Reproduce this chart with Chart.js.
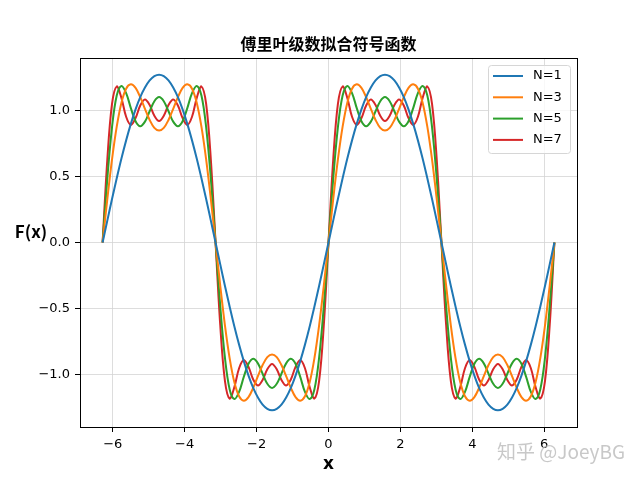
<!DOCTYPE html>
<html lang="zh">
<head>
  <meta charset="UTF-8">
  <title>傅里叶级数拟合符号函数</title>
  <script src="https://cdn.jsdelivr.net/npm/chart.js@4.4.0/dist/chart.umd.min.js"></script>
  <style>
    body { margin: 0; background: #fff; }
  </style>
</head>
<body>
  <canvas id="myChart" width="640" height="480"></canvas>

  <script>
    // x samples from -2π to 2π (step π/24)
    const xs = [
      -6.2832,-6.1523,-6.0214,-5.8905,-5.7596,-5.6287,-5.4978,-5.3669,-5.2360,-5.1051,-4.9742,-4.8433,
      -4.7124,-4.5815,-4.4506,-4.3197,-4.1888,-4.0579,-3.9270,-3.7961,-3.6652,-3.5343,-3.4034,-3.2725,
      -3.1416,-3.0107,-2.8798,-2.7489,-2.6180,-2.4871,-2.3562,-2.2253,-2.0944,-1.9635,-1.8326,-1.7017,
      -1.5708,-1.4399,-1.3090,-1.1781,-1.0472,-0.9163,-0.7854,-0.6545,-0.5236,-0.3927,-0.2618,-0.1309,
      0,0.1309,0.2618,0.3927,0.5236,0.6545,0.7854,0.9163,1.0472,1.1781,1.3090,1.4399,
      1.5708,1.7017,1.8326,1.9635,2.0944,2.2253,2.3562,2.4871,2.6180,2.7489,2.8798,3.0107,
      3.1416,3.2725,3.4034,3.5343,3.6652,3.7961,3.9270,4.0579,4.1888,4.3197,4.4506,4.5815,
      4.7124,4.8433,4.9742,5.1051,5.2360,5.3669,5.4978,5.6287,5.7596,5.8905,6.0214,6.1523,
      6.2832
    ];

    const yN1 = [
      0,0.166,0.330,0.487,0.637,0.775,0.900,1.010,1.103,1.176,1.230,1.262,1.273,1.262,1.230,1.176,1.103,1.010,0.900,0.775,0.637,0.487,0.330,0.166,
      0,-0.166,-0.330,-0.487,-0.637,-0.775,-0.900,-1.010,-1.103,-1.176,-1.230,-1.262,-1.273,-1.262,-1.230,-1.176,-1.103,-1.010,-0.900,-0.775,-0.637,-0.487,-0.330,-0.166,
      0,0.166,0.330,0.487,0.637,0.775,0.900,1.010,1.103,1.176,1.230,1.262,1.273,1.262,1.230,1.176,1.103,1.010,0.900,0.775,0.637,0.487,0.330,0.166,
      0,-0.166,-0.330,-0.487,-0.637,-0.775,-0.900,-1.010,-1.103,-1.176,-1.230,-1.262,-1.273,-1.262,-1.230,-1.176,-1.103,-1.010,-0.900,-0.775,-0.637,-0.487,-0.330,-0.166,
      0
    ];
    const yN3 = [
      0,0.329,0.630,0.879,1.061,1.167,1.200,1.173,1.103,1.014,0.930,0.870,0.849,0.870,0.930,1.014,1.103,1.173,1.200,1.167,1.061,0.879,0.630,0.329,
      0,-0.329,-0.630,-0.879,-1.061,-1.167,-1.200,-1.173,-1.103,-1.014,-0.930,-0.870,-0.849,-0.870,-0.930,-1.014,-1.103,-1.173,-1.200,-1.167,-1.061,-0.879,-0.630,-0.329,
      0,0.329,0.630,0.879,1.061,1.167,1.200,1.173,1.103,1.014,0.930,0.870,0.849,0.870,0.930,1.014,1.103,1.173,1.200,1.167,1.061,0.879,0.630,0.329,
      0,-0.329,-0.630,-0.879,-1.061,-1.167,-1.200,-1.173,-1.103,-1.014,-0.930,-0.870,-0.849,-0.870,-0.930,-1.014,-1.103,-1.173,-1.200,-1.167,-1.061,-0.879,-0.630,-0.329,
      0
    ];
    const yN5 = [
      0,0.484,0.876,1.115,1.188,1.134,1.020,0.920,0.882,0.917,0.996,1.072,1.104,1.072,0.996,0.917,0.882,0.920,1.020,1.134,1.188,1.115,0.876,0.484,
      0,-0.484,-0.876,-1.115,-1.188,-1.134,-1.020,-0.920,-0.882,-0.917,-0.996,-1.072,-1.104,-1.072,-0.996,-0.917,-0.882,-0.920,-1.020,-1.134,-1.188,-1.115,-0.876,-0.484,
      0,0.484,0.876,1.115,1.188,1.134,1.020,0.920,0.882,0.917,0.996,1.072,1.104,1.072,0.996,0.917,0.882,0.920,1.020,1.134,1.188,1.115,0.876,0.484,
      0,-0.484,-0.876,-1.115,-1.188,-1.134,-1.020,-0.920,-0.882,-0.917,-0.996,-1.072,-1.104,-1.072,-0.996,-0.917,-0.882,-0.920,-1.020,-1.134,-1.188,-1.115,-0.876,-0.484,
      0
    ];
    const yN7 = [
      0,0.628,1.051,1.184,1.097,0.954,0.892,0.944,1.040,1.085,1.043,0.962,0.922,0.962,1.043,1.085,1.040,0.944,0.892,0.954,1.097,1.184,1.051,0.628,
      0,-0.628,-1.051,-1.184,-1.097,-0.954,-0.892,-0.944,-1.040,-1.085,-1.043,-0.962,-0.922,-0.962,-1.043,-1.085,-1.040,-0.944,-0.892,-0.954,-1.097,-1.184,-1.051,-0.628,
      0,0.628,1.051,1.184,1.097,0.954,0.892,0.944,1.040,1.085,1.043,0.962,0.922,0.962,1.043,1.085,1.040,0.944,0.892,0.954,1.097,1.184,1.051,0.628,
      0,-0.628,-1.051,-1.184,-1.097,-0.954,-0.892,-0.944,-1.040,-1.085,-1.043,-0.962,-0.922,-0.962,-1.043,-1.085,-1.040,-0.944,-0.892,-0.954,-1.097,-1.184,-1.051,-0.628,
      0
    ];

    const seriesLabels = ['N=1', 'N=3', 'N=5', 'N=7'];
    const seriesColors = ['#1f77b4', '#ff7f0e', '#2ca02c', '#d62728'];
    const xTicks = [-6, -4, -2, 0, 2, 4, 6];
    const yTicks = [-1.0, -0.5, 0.0, 0.5, 1.0];

    const fmt = (v, digits) => {
      const s = Math.abs(v).toFixed(digits);
      return v < 0 ? '\u2212' + s : s;
    };

    // title, axis labels, frame, legend, watermark
    const decorations = {
      id: 'decorations',
      afterDraw(chart) {
        const ctx = chart.ctx;
        const area = chart.chartArea;
        ctx.save();

        ctx.strokeStyle = '#000';
        ctx.lineWidth = 1;
        ctx.strokeRect(Math.round(area.left) + 0.5, Math.round(area.top) + 0.5,
                       Math.round(area.right - area.left), Math.round(area.bottom - area.top));

        ctx.fillStyle = '#000';
        ctx.textAlign = 'center';
        ctx.textBaseline = 'middle';
        ctx.font = 'bold 16px "Noto Sans CJK SC"';
        ctx.fillText('傅里叶级数拟合符号函数', (area.left + area.right) / 2, 44);

        ctx.font = 'bold 17px "DejaVu Sans"';
        ctx.fillText('x', (area.left + area.right) / 2, 465);

        ctx.font = 'bold 17px "Noto Sans CJK SC"';
        ctx.fillText('F(x)', 31, 232);

        // legend
        const lx = 488, ly = 65, lw = 82, lh = 88;
        ctx.beginPath();
        ctx.roundRect(lx + 0.5, ly + 0.5, lw, lh, 3);
        ctx.fillStyle = 'rgba(255,255,255,0.8)';
        ctx.fill();
        ctx.strokeStyle = '#d6d6d6';
        ctx.stroke();
        ctx.font = '13px "DejaVu Sans"';
        ctx.textAlign = 'left';
        chart.data.datasets.forEach((ds, i) => {
          const y = 76 + i * 21.3;
          ctx.strokeStyle = ds.borderColor;
          ctx.lineWidth = 2;
          ctx.beginPath();
          ctx.moveTo(493, y);
          ctx.lineTo(523, y);
          ctx.stroke();
          ctx.fillStyle = '#000';
          ctx.fillText(ds.label, 533, y);
        });

        // watermark
        ctx.font = '19px "Noto Sans CJK SC"';
        ctx.fillStyle = 'rgba(190,190,190,0.85)';
        ctx.textAlign = 'left';
        ctx.fillText('知乎 @JoeyBG', 497, 452);
        ctx.restore();
      }
    };

    const ctx = document.getElementById('myChart').getContext('2d');
    const series = [yN1, yN3, yN5, yN7];
    new Chart(ctx, {
      type: 'line',
      data: {
        datasets: series.map((ys, i) => ({
          label: seriesLabels[i],
          data: xs.map((x, k) => ({ x: x, y: ys[k] })),
          borderColor: seriesColors[i],
          backgroundColor: seriesColors[i],
          borderWidth: 2,
          pointRadius: 0,
          tension: 0.35,
          fill: false
        }))
      },
      options: {
        responsive: false,
        devicePixelRatio: 1,
        animation: false,
        layout: { padding: { top: 58, right: 63, left: 0, bottom: 0 } },
        plugins: {
          legend: { display: false },
          title: { display: false },
          tooltip: { enabled: false }
        },
        scales: {
          x: {
            type: 'linear',
            min: -6.912,
            max: 6.912,
            afterFit: s => { s.height = 53; },
            afterBuildTicks: s => { s.ticks = xTicks.map(v => ({ value: v })); },
            ticks: {
              color: '#000',
              font: { family: 'DejaVu Sans', size: 13 },
              padding: 5,
              maxRotation: 0,
              callback: v => fmt(v, 0)
            },
            grid: { color: '#d4d4d4', lineWidth: 0.8, tickColor: '#000', tickLength: 5, tickWidth: 1 },
            border: { display: true, color: '#000', width: 1 }
          },
          y: {
            min: -1.4,
            max: 1.4,
            afterFit: s => { s.width = 80; },
            afterBuildTicks: s => { s.ticks = yTicks.map(v => ({ value: v })); },
            ticks: {
              color: '#000',
              font: { family: 'DejaVu Sans', size: 13 },
              padding: 5,
              callback: v => fmt(v, 1)
            },
            grid: { color: '#d4d4d4', lineWidth: 0.8, tickColor: '#000', tickLength: 5, tickWidth: 1 },
            border: { display: true, color: '#000', width: 1 }
          }
        }
      },
      plugins: [decorations]
    });
  </script>
</body>
</html>
